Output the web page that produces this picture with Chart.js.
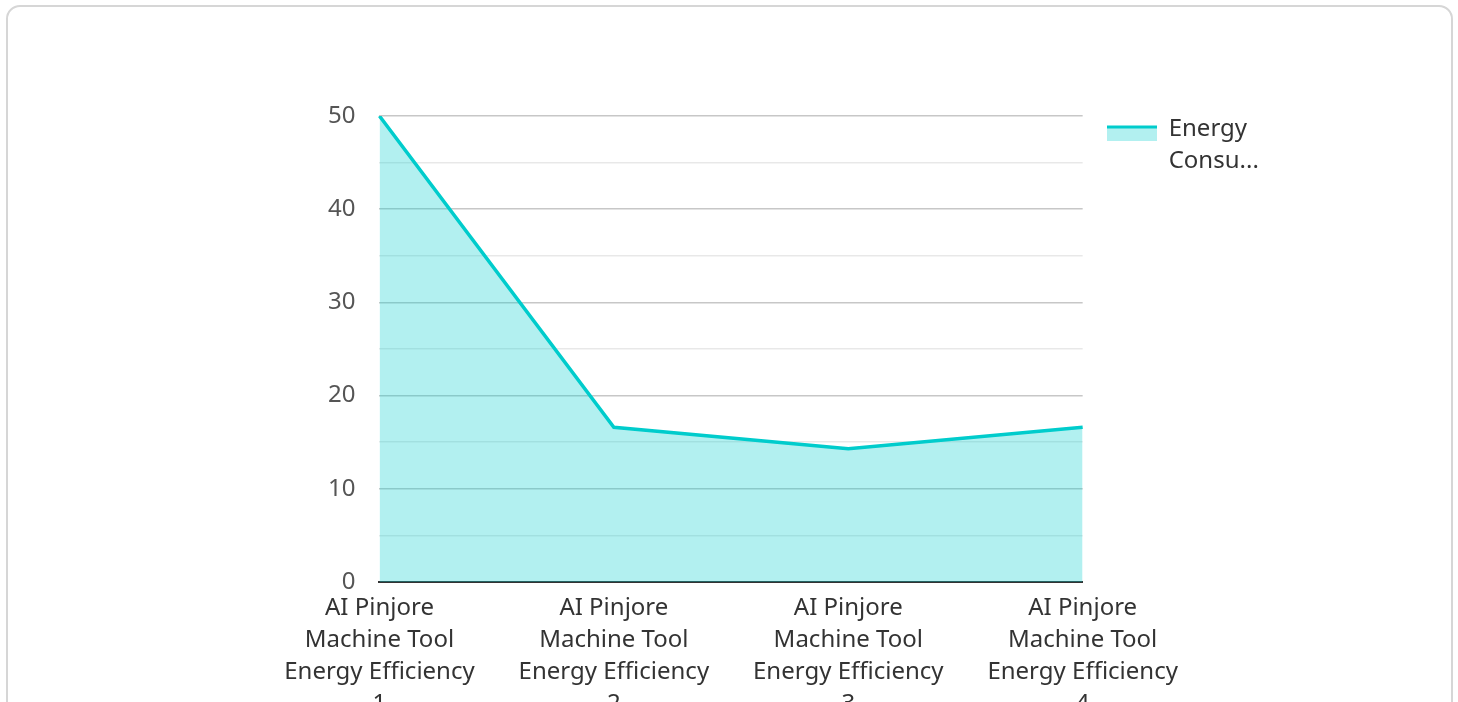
<!DOCTYPE html>
<html>
<head>
<meta charset="utf-8">
<script src="https://cdn.jsdelivr.net/npm/chart.js@4/dist/chart.umd.min.js"></script>
<style>
  html, body { margin: 0; padding: 0; background: #ffffff; overflow: hidden; }
  body { width: 1458px; height: 702px; position: relative; }
  .card {
    position: absolute; left: 6px; top: 5px; width: 1447px; height: 820px;
    border: 2px solid #d6d6d6; border-radius: 14px; box-sizing: border-box; background: #fff;
  }
  .plot { position: absolute; left: 0; top: 0; width: 1458px; height: 730px; }
</style>
</head>
<body>
<div class="card"></div>
<div class="plot"><canvas id="chart"></canvas></div>
<script>
// Categories and series
const categories = [
  ['AI Pinjore', 'Machine Tool', 'Energy Efficiency', '1'],
  ['AI Pinjore', 'Machine Tool', 'Energy Efficiency', '2'],
  ['AI Pinjore', 'Machine Tool', 'Energy Efficiency', '3'],
  ['AI Pinjore', 'Machine Tool', 'Energy Efficiency', '4']
];
const seriesName = 'Energy Consumption';
const legendLines = ['Energy', 'Consu...'];
const energyValues = [50, 16.6, 14.3, 16.6];
const yTicks = [0, 10, 20, 30, 40, 50];

const lineColor = 'rgb(0, 204, 204)';
const fillColor = 'rgba(0, 204, 204, 0.3)';
const FONT = '"Noto Sans", "Open Sans", sans-serif';

// Legend swatch: a line on top of a filled band (transparent strip above keeps it level with the text)
function makeSwatch() {
  const c = document.createElement('canvas');
  c.width = 50; c.height = 23;
  const g = c.getContext('2d');
  g.fillStyle = fillColor;
  g.fillRect(0, 11, 50, 12);
  g.fillStyle = lineColor;
  g.fillRect(0, 8, 50, 3);
  return c;
}
const swatch = makeSwatch();

new Chart(document.getElementById('chart'), {
  type: 'line',
  data: {
    labels: categories,
    datasets: [{
      label: seriesName,
      data: energyValues,
      borderColor: lineColor,
      backgroundColor: fillColor,
      borderWidth: 3.5,
      fill: 'origin',
      tension: 0,
      pointRadius: 0,
      pointHoverRadius: 0
    }]
  },
  options: {
    responsive: true,
    maintainAspectRatio: false,
    animation: false,
    layout: { padding: { left: 304, top: 116, right: 192, bottom: 0 } },
    plugins: {
      tooltip: { enabled: false },
      legend: {
        position: 'right',
        align: 'start',
        labels: {
          usePointStyle: true,
          pointStyleWidth: 50,
          boxWidth: 50,
          boxHeight: 15,
          padding: 1,
          color: '#333333',
          font: { family: FONT, size: 24, lineHeight: 1.3333 },
          generateLabels: () => [{
            text: legendLines,
            fillStyle: fillColor,
            strokeStyle: lineColor,
            fontColor: '#333333',
            lineWidth: 0,
            pointStyle: swatch,
            hidden: false,
            datasetIndex: 0
          }]
        }
      }
    },
    scales: {
      x: {
        offset: false,
        grid: { display: false, drawTicks: false },
        border: { display: true, color: '#333333', width: 2 },
        ticks: {
          color: '#333333',
          maxRotation: 0,
          autoSkip: false,
          padding: 10,
          font: { family: FONT, size: 24, lineHeight: 1.3333 }
        }
      },
      y: {
        min: 0,
        max: 50,
        grid: {
          drawTicks: false,
          color: (ctx) => (ctx.tick && yTicks.includes(ctx.tick.value)) ? 'rgba(0,0,0,0.22)' : 'rgba(0,0,0,0.09)',
          lineWidth: 1.5
        },
        border: { display: false },
        ticks: {
          stepSize: 5,
          padding: 24,
          color: '#555555',
          font: { family: FONT, size: 24 },
          callback: (v) => yTicks.includes(v) ? String(v) : ''
        }
      },
      // empty gutter between the plot and the legend
      gutter: {
        position: 'right',
        display: true,
        grid: { display: false },
        border: { display: false },
        ticks: { display: false },
        afterFit: (scale) => { scale.width = 23; }
      }
    }
  }
});
</script>
</body>
</html>
